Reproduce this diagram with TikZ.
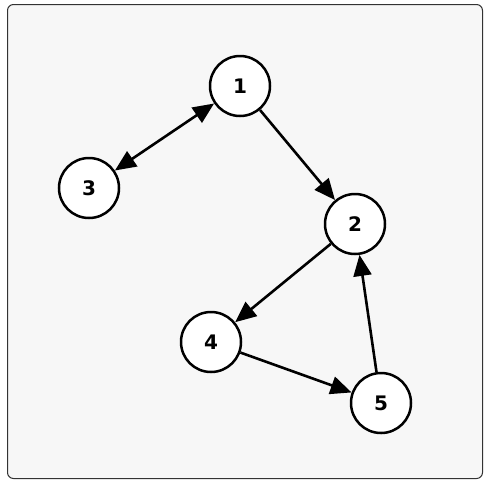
\documentclass[tikz,border=0pt]{standalone}
\usepackage{fontspec}
\setmainfont{DejaVu Sans}
\usetikzlibrary{arrows.meta}
\begin{document}
\begin{tikzpicture}[x=1pt,y=-1pt,
  vert/.style={circle,draw=black,fill=white,line width=2.5pt,minimum size=60pt,inner sep=0pt,font=\bfseries\fontsize{20}{20}\selectfont},
  edge/.style={line width=2.6pt,-{Triangle[length=21pt,width=18pt]}},
  biedge/.style={line width=2.6pt,{Triangle[length=21pt,width=18pt]}-{Triangle[length=21pt,width=18pt]}}]
\useasboundingbox (0,0) rectangle (492,483);
\draw[fill=black!3,draw=black!80,line width=1pt,rounded corners=6pt] (7.5,4.5) rectangle (482.5,478.5);
\node[vert] (n1) at (240,86) {1};
\node[vert] (n3) at (89,188) {3};
\node[vert] (n2) at (355,224) {2};
\node[vert] (n4) at (211,342) {4};
\node[vert] (n5) at (381,403) {5};
\draw[biedge] (n3) -- (n1);
\draw[edge] (n1) -- (n2);
\draw[edge] (n2) -- (n4);
\draw[edge] (n4) -- (n5);
\draw[edge] (n5) -- (n2);
\end{tikzpicture}
\end{document}
